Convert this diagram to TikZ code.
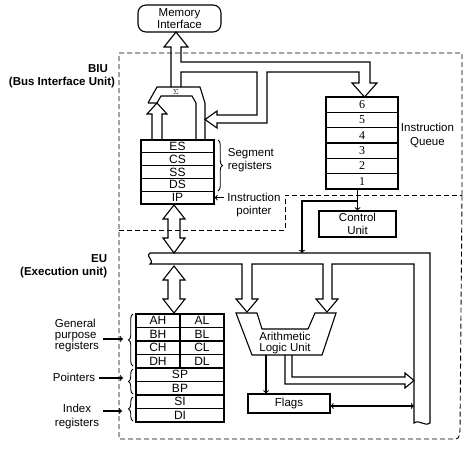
\documentclass[tikz,border=0pt]{standalone}
\usepackage{fontspec}
\setmainfont{Liberation Sans}
\newfontfamily\qfont{Liberation Serif}
\usetikzlibrary{decorations.pathreplacing}

\begin{document}
\begin{tikzpicture}[x=1pt,y=-1pt,line width=1.1pt]
		  \tikzstyle{every node}=[font=\fontsize{11.5}{12.5}\selectfont];
		  \tikzstyle{reg}=[draw,inner sep=0pt,minimum width=73pt,minimum height=12.8pt,font=\fontsize{12}{12}\selectfont];
		  \tikzstyle{gpr}=[draw,inner sep=0pt,minimum width=44pt,minimum height=13.5pt,font=\fontsize{12}{12}\selectfont];
		  \tikzstyle{wide}=[gpr,minimum width=88pt];
		  \tikzstyle{slot}=[draw,inner sep=0pt,minimum width=72pt,minimum height=15.33pt,font=\qfont\fontsize{12}{12}\selectfont];
		  \tikzstyle{unit}=[draw,inner sep=0pt,align=center];
		  \tikzstyle{bound}=[dash pattern=on 5pt off 3pt,line width=0.9pt];
		  \tikzstyle{curly}=[decorate,decoration={brace,amplitude=4.5pt},line width=0.9pt];
		  \tikzstyle{title}=[font=\bfseries\fontsize{11.5}{13}\selectfont];
			\useasboundingbox (0,0) rectangle (474,453);

			% BIU side
			\path (179.5,18.5) node[unit,rounded corners=8pt,minimum width=83pt,minimum height=27pt] (mem) {Memory\\Interface};
			\path (98,69)    node[title] (biu) {BIU};
			\path (62,83)    node[title] (biufull) {(Bus Interface Unit)};

			\path (177.5,146.4) node[reg] (ES) {ES};
			\path (177.5,159.2) node[reg] (CS) {CS};
			\path (177.5,172)   node[reg] (SS) {SS};
			\path (177.5,184.8) node[reg] (DS) {DS};
			\path (177.5,197.6) node[reg] (IP) {IP};
			\path (224,160) node[anchor=west,align=left] (seglabel) {Segment\\registers};
			\path (254,205) node[align=center] (iplabel) {Instruction\\[1pt]pointer};

			\path (362,104.7) node[slot] (q6) {6};
			\path (362,120)   node[slot] (q5) {5};
			\path (362,135.3) node[slot] (q4) {4};
			\path (362,150.7) node[slot] (q3) {3};
			\path (362,166)   node[slot] (q2) {2};
			\path (362,181.3) node[slot] (q1) {1};
			\path (427.5,135.5) node[align=center] (qlabel) {Instruction\\[2pt]Queue};
			\path (357.5,224) node[unit,minimum width=77pt,minimum height=26pt] (cu) {Control\\Unit};

			% adder and the buses round it
			\path (176,92) node[inner sep=0pt,font=\fontsize{7}{7}\selectfont] (sigma) {$\Sigma$};
			\path[draw] (148,103) -- (157,87) -- (200,87) -- (205,103) -- (205,140)
				(196,140) -- (196,103) -- (192,96) -- (161,96) -- (157,103) -- (148,103);
			\path[draw] (152,140) -- (152,114) -- (147,114) -- (157,103) -- (167,114) -- (162,114) -- (162,140);
			\path[draw] (171,87) -- (171,47) -- (164,47) -- (176,32) -- (188,47) -- (181,47) -- (181,62)
				-- (370,62) -- (370,83) -- (377,83) -- (364.5,97) -- (352,83) -- (359,83) -- (359,72)
				-- (267,72) -- (267,123) -- (217,123) -- (217,128) -- (205,119.5) -- (217,111) -- (217,115)
				-- (257,115) -- (257,72) -- (181,72) -- (181,87);

			% EU side
			\path (111,266) node[title,anchor=east,align=right] (eu) {EU\\(Execution unit)};
			\path[draw] (174,205) -- (185,219) -- (180,219) -- (180,238) -- (185,238) -- (174,253)
				-- (163,238) -- (168,238) -- (168,219) -- (163,219) -- cycle;
			\path[draw] (174,266) -- (185,280) -- (180,280) -- (180,299) -- (185,299) -- (174,313)
				-- (163,299) -- (168,299) -- (168,280) -- (163,280) -- cycle;
			\path[draw] (150,264) .. controls (155,260) and (145,257) .. (150,253) -- (430,253) -- (430,423)
				.. controls (424,427) and (420,419) .. (414,423) -- (414,264) -- (332,264) -- (332,299)
				-- (338,299) -- (327,312) -- (316,299) -- (323,299) -- (323,264) -- (252,264) -- (252,299)
				-- (258,299) -- (247,312) -- (236,299) -- (242,299) -- (242,264) -- cycle;

			\path (158,320.75) node[gpr] (AH) {AH};
			\path (202,320.75) node[gpr] (AL) {AL};
			\path (158,334.25) node[gpr] (BH) {BH};
			\path (202,334.25) node[gpr] (BL) {BL};
			\path (158,347.75) node[gpr] (CH) {CH};
			\path (202,347.75) node[gpr] (CL) {CL};
			\path (158,361.25) node[gpr] (DH) {DH};
			\path (202,361.25) node[gpr] (DL) {DL};
			\path (180,374.75) node[wide] (SP) {SP};
			\path (180,388.25) node[wide] (BP) {BP};
			\path (180,401.75) node[wide] (SI) {SI};
			\path (180,415.25) node[wide] (DI) {DI};

			\path (51,336) node[anchor=west,align=left] (gplabel) {General\\[-1.5pt]purpose\\[-1.5pt]registers};
			\path (74,377) node (ptlabel) {Pointers};
			\path (77,417) node[align=center] (ixlabel) {Index\\[1.5pt]registers};

			\path[draw] (236,313) -- (257,313) -- (262,329) -- (308,329) -- (315,313) -- (336,313)
				-- (322,355) -- (252,355) -- cycle;
			\path (285,343) node[align=center] (alu) {Arithmetic\\[-1.5pt]Logic Unit};
			\path[draw] (292,355) -- (292,377) -- (405,377) -- (405,373) -- (414,380.5) -- (405,388)
				-- (405,384) -- (285,384) -- (285,355);
			\path (289,403.5) node[unit,minimum width=82pt,minimum height=19pt] (flags) {Flags};

			\coordinate (gptip) at (123,339);
			\coordinate (pttip) at (123,378);
			\coordinate (ixtip) at (122,411);
			\coordinate (cusplit) at (357.5,201);
			\coordinate (busdrop) at (302,253);
			\coordinate (aluout) at (266,355);
			\coordinate (busin) at (414,406);

			\path[->,draw] (IP.east -| iplabel.west) -- (IP.east);
			\path[->,draw] (q1.south -| cu.north) -- (cu.north);
			\path[->,draw] (cusplit) -| (busdrop);
			\path[->,draw] (aluout) -- (aluout |- flags.north);
			\path[<->,draw] (busin -| flags.east) -- (busin);
			\path[->,draw] (gptip -| gplabel.east) -- (gptip);
			\path[->,draw] (pttip -| ptlabel.east) -- (pttip);
			\path[->,draw] (ixtip -| ixlabel.east) -- (ixtip);

			\path[curly,draw] (218,140) -- (218,191);
			\path[curly,draw] (133,366) -- (133,314);
			\path[curly,draw] (133,394) -- (133,369);
			\path[curly,draw] (133,421) -- (133,397);

			% unit borders
			\path[bound,draw] (462,195) -- (462,53) -- (119,53) -- (119,439) -- (452,439)
				.. controls (459,439) .. (460,430) -- (462,195);
			\path[bound,draw] (119,230) -- (285,230) -- (285,195) -- (462,195);
		\end{tikzpicture}
\end{document}
